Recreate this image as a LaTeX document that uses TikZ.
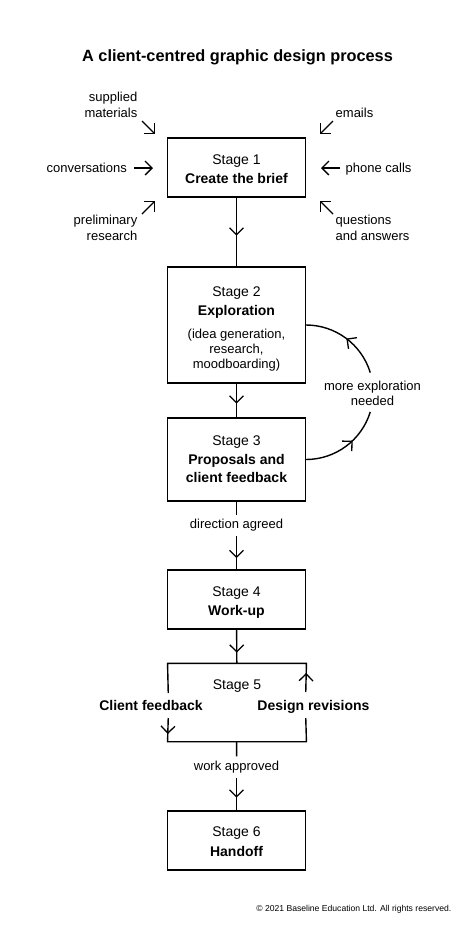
\documentclass[tikz,border=0pt]{standalone}
\usepackage{fontspec}
\setmainfont{Liberation Sans}
\usetikzlibrary{arrows.meta,decorations.markings,calc}
\begin{document}
\begin{tikzpicture}[x=1pt,y=-1pt,line width=1.4pt,
  barb/.tip={Straight Barb[length=7pt,width=14pt,line width=1.3pt]},
  midarrow/.style={postaction={decorate},decoration={markings,mark=at position #1 with {\arrow{barb}}}},
  inarrow/.style={-{barb}},
  box/.style={draw,minimum width=137.5pt,inner sep=0pt},
  big/.style={font=\fontsize{14}{17}\selectfont,anchor=base,inner sep=0pt},
  bigb/.style={font=\fontsize{14}{17}\selectfont\bfseries,anchor=base,inner sep=0pt},
  small/.style={font=\fontsize{13}{15}\selectfont,anchor=base,inner sep=0pt},
  gaplabel/.style={font=\fontsize{13}{15}\selectfont,minimum height=20pt,inner sep=0pt}]
\useasboundingbox (0,0) rectangle (474,935);
% title
\node[font=\fontsize{16.3}{19}\selectfont\bfseries,anchor=base,inner sep=0pt] (title) at (237.5,61) {A client-centred graphic design process};
% boxes
\node[box,minimum height=59pt] (s1) at (236.5,167.5) {};
\node[box,minimum height=116pt] (s2) at (236.5,325) {};
\node[box,minimum height=83pt] (s3) at (236.5,459.5) {};
\node[box,minimum height=59pt] (s4) at (236.5,599.5) {};
\node[box,draw=none,minimum height=77pt] (s5) at (237,702.5) {};
\node[box,minimum height=59pt] (s6) at (236.5,840.5) {};
% box texts
\node[big] (t1a) at (236.5,164.3) {Stage 1};
\node[bigb] (t1b) at (236.5,183.3) {Create the brief};
\node[big] (t2a) at (236.5,296) {Stage 2};
\node[bigb] (t2b) at (236.5,315) {Exploration};
\node[small] (t2c) at (236.5,338.5) {(idea generation,};
\node[small] (t2d) at (236.5,353.5) {research,};
\node[small] (t2e) at (236.5,368.5) {moodboarding)};
\node[big] (t3a) at (236.5,445.3) {Stage 3};
\node[bigb] (t3b) at (236.5,464) {Proposals and};
\node[bigb] (t3c) at (236.5,482.7) {client feedback};
\node[big] (t4a) at (236.5,596) {Stage 4};
\node[bigb] (t4b) at (236.5,615) {Work-up};
\node[big] (t5a) at (237,689.3) {Stage 5};
\node[bigb] (cf) at (151,710) {Client feedback};
\node[bigb] (dr) at (313.5,710) {Design revisions};
\node[big] (t6a) at (236.5,836.7) {Stage 6};
\node[bigb] (t6b) at (236.5,856) {Handoff};
% input labels
\node[small,anchor=base east] (l1a) at (138,101) {supplied};
\node[small,anchor=base east] (l1b) at (138,117.3) {materials};
\node[small,anchor=base east] (l2) at (127.5,172.7) {conversations};
\node[small,anchor=base east] (l3a) at (138,224) {preliminary};
\node[small,anchor=base east] (l3b) at (138,240.5) {research};
\node[small,anchor=base west] (r1) at (335,117.3) {emails};
\node[small,anchor=base west] (r2) at (345,172.7) {phone calls};
\node[small,anchor=base west] (r3a) at (335,224) {questions};
\node[small,anchor=base west] (r3b) at (335,240.5) {and answers};
% input arrows
\coordinate (a1s) at (142,121); \coordinate (a1e) at (155,134);
\coordinate (a2s) at (134,168); \coordinate (a2e) at (153,168);
\coordinate (a3s) at (142,214); \coordinate (a3e) at (155,201);
\coordinate (b1s) at (333,121); \coordinate (b1e) at (320,134);
\coordinate (b2s) at (340,168); \coordinate (b2e) at (321,168);
\coordinate (b3s) at (333,214); \coordinate (b3e) at (320,201);
\draw[inarrow] (a1s) -- (a1e);
\draw[inarrow] (a2s) -- (a2e);
\draw[inarrow] (a3s) -- (a3e);
\draw[inarrow] (b1s) -- (b1e);
\draw[inarrow] (b2s) -- (b2e);
\draw[inarrow] (b3s) -- (b3e);
% main flow
\draw[midarrow=38pt] (s1) -- (s2);
\draw[midarrow=20pt] (s2) -- (s3);
\node[gaplabel] (lab1) at (236.5,525.5) {direction agreed};
\draw (s3) -- (lab1);
\draw[midarrow=22pt] (lab1) -- (s4);
\draw[midarrow=23pt] (s4) -- (s5);
\node[gaplabel] (lab2) at (236.5,767) {work approved};
\draw (s5) -- (lab2);
\draw[midarrow=20pt] (lab2) -- (s6);
% stage 5 frame
\coordinate (lgt) at (168.25,693); \coordinate (lgb) at (168.25,718);
\coordinate (rgt) at (305.75,692); \coordinate (rgb) at (305.75,718);
\draw[midarrow=16pt] (lgb) -- (s5.south west) -- (s5.south east) -- (rgb);
\draw[midarrow=19pt] (rgt) -- (s5.north east) -- (s5.north west) -- (lgt);
% loop
\coordinate (lc) at ($(s2.east)!0.5!(s3.east)$);
\draw[midarrow=51.6pt] (s3.east) arc[start angle=90,end angle=17,radius=67.25];
\draw[midarrow=42.3pt] ($(lc)+(-17:67.25)$) arc[start angle=-17,end angle=-90,radius=67.25];
\node[small] (m1) at (372.5,390) {more exploration};
\node[small] (m2) at (372.5,405.7) {needed};
% copyright
\node[font=\fontsize{8.6}{10}\selectfont,anchor=base east,inner sep=0pt] (copy) at (452,911) {© 2021 Baseline Education Ltd. All rights reserved.};
\end{tikzpicture}
\end{document}
